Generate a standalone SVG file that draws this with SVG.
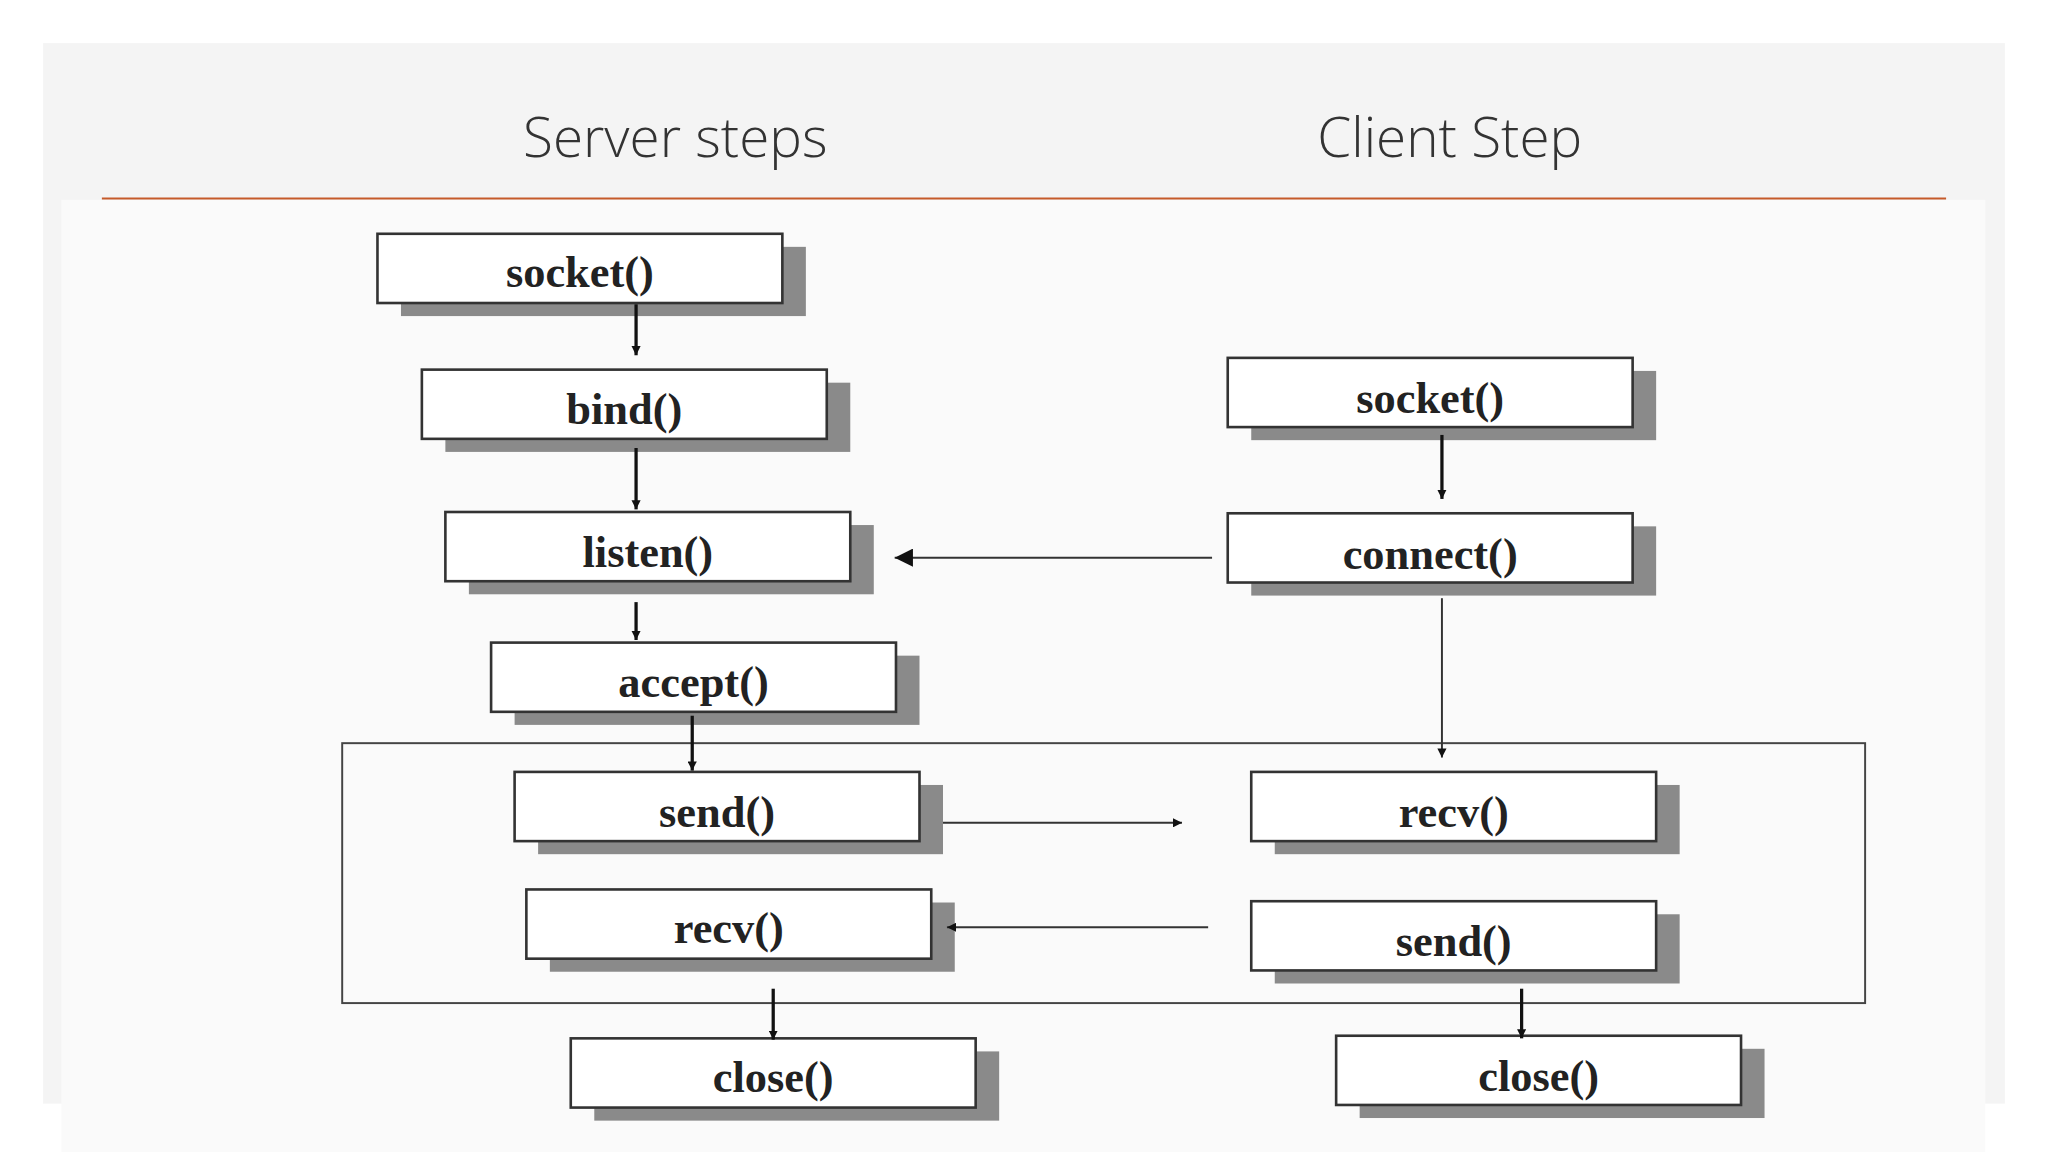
<svg xmlns="http://www.w3.org/2000/svg" width="2048" height="1152" viewBox="0 0 2048 1152">
<defs>
<marker id="a" viewBox="0 0 10 10" refX="10" refY="5" markerWidth="7" markerHeight="7" orient="auto" markerUnits="userSpaceOnUse"><path d="M0,0L10,5L0,10z" fill="#111"/></marker>
<marker id="b" viewBox="0 0 10 10" refX="10" refY="5" markerWidth="24" markerHeight="14" orient="auto" markerUnits="userSpaceOnUse"><path d="M0,0L10,5L0,10z" fill="#111"/></marker>
<style>
.sh{fill:#8a8a8a}
.bx{fill:#fff;stroke:#333;stroke-width:2}
.t{font-family:"Liberation Serif",serif;font-weight:bold;font-size:34px;fill:#222;text-anchor:middle}
.h{font-family:"Open Sans",sans-serif;font-weight:300;font-size:42px;fill:#333;text-anchor:middle}
.c{stroke:#111;stroke-width:2.5;fill:none}
</style>
</defs>
<rect width="2048" height="1152" fill="#fff"/>
<g transform="scale(1.3061)">
<rect x="33" y="33" width="1502" height="812" fill="#f4f4f4"/>
<rect x="47" y="153" width="1473" height="730" fill="#fafafa"/>
<line x1="78" y1="152" x2="1490" y2="152" stroke="#c55a2a" stroke-width="1.5"/>
<text class="h" x="517" y="120">Server steps</text>
<text class="h" x="1110" y="120">Client Step</text>
<rect x="262" y="569" width="1166" height="199" fill="none" stroke="#444" stroke-width="1.5"/>
<g id="s_socket"><rect class="sh" x="307" y="189" width="310" height="53"/><rect class="bx" x="289" y="179" width="310" height="53"/><text class="t" x="444" y="220">socket()</text></g>
<g id="s_bind"><rect class="sh" x="341" y="293" width="310" height="53"/><rect class="bx" x="323" y="283" width="310" height="53"/><text class="t" x="478" y="325">bind()</text></g>
<g id="s_listen"><rect class="sh" x="359" y="402" width="310" height="53"/><rect class="bx" x="341" y="392" width="310" height="53"/><text class="t" x="496" y="434">listen()</text></g>
<g id="s_accept"><rect class="sh" x="394" y="502" width="310" height="53"/><rect class="bx" x="376" y="492" width="310" height="53"/><text class="t" x="531" y="534">accept()</text></g>
<g id="s_send"><rect class="sh" x="412" y="601" width="310" height="53"/><rect class="bx" x="394" y="591" width="310" height="53"/><text class="t" x="549" y="633">send()</text></g>
<g id="s_recv"><rect class="sh" x="421" y="691" width="310" height="53"/><rect class="bx" x="403" y="681" width="310" height="53"/><text class="t" x="558" y="722">recv()</text></g>
<g id="s_close"><rect class="sh" x="455" y="805" width="310" height="53"/><rect class="bx" x="437" y="795" width="310" height="53"/><text class="t" x="592" y="836">close()</text></g>
<g id="c_socket"><rect class="sh" x="958" y="284" width="310" height="53"/><rect class="bx" x="940" y="274" width="310" height="53"/><text class="t" x="1095" y="316">socket()</text></g>
<g id="c_connect"><rect class="sh" x="958" y="403" width="310" height="53"/><rect class="bx" x="940" y="393" width="310" height="53"/><text class="t" x="1095" y="436">connect()</text></g>
<g id="c_recv"><rect class="sh" x="976" y="601" width="310" height="53"/><rect class="bx" x="958" y="591" width="310" height="53"/><text class="t" x="1113" y="633">recv()</text></g>
<g id="c_send"><rect class="sh" x="976" y="700" width="310" height="53"/><rect class="bx" x="958" y="690" width="310" height="53"/><text class="t" x="1113" y="732">send()</text></g>
<g id="c_close"><rect class="sh" x="1041" y="803" width="310" height="53"/><rect class="bx" x="1023" y="793" width="310" height="53"/><text class="t" x="1178" y="835">close()</text></g>
<g id="connectors">
<line class="c" x1="487" y1="233" x2="487" y2="272" marker-end="url(#a)"/>
<line class="c" x1="487" y1="343" x2="487" y2="390" marker-end="url(#a)"/>
<line class="c" x1="487" y1="461" x2="487" y2="490" marker-end="url(#a)"/>
<line class="c" x1="530" y1="548" x2="530" y2="590" marker-end="url(#a)"/>
<line class="c" x1="1104" y1="333" x2="1104" y2="382" marker-end="url(#a)"/>
<line x1="928" y1="427" x2="685" y2="427" stroke="#333" stroke-width="1.5" marker-end="url(#b)"/>
<line x1="1104" y1="458" x2="1104" y2="580" stroke="#333" stroke-width="1.5" marker-end="url(#a)"/>
<line x1="722" y1="630" x2="905" y2="630" stroke="#333" stroke-width="1.5" marker-end="url(#a)"/>
<line x1="925" y1="710" x2="725" y2="710" stroke="#333" stroke-width="1.5" marker-end="url(#a)"/>
<line class="c" x1="592" y1="757" x2="592" y2="796" marker-end="url(#a)"/>
<line class="c" x1="1165" y1="757" x2="1165" y2="795" marker-end="url(#a)"/>
</g>
</g>
</svg>
